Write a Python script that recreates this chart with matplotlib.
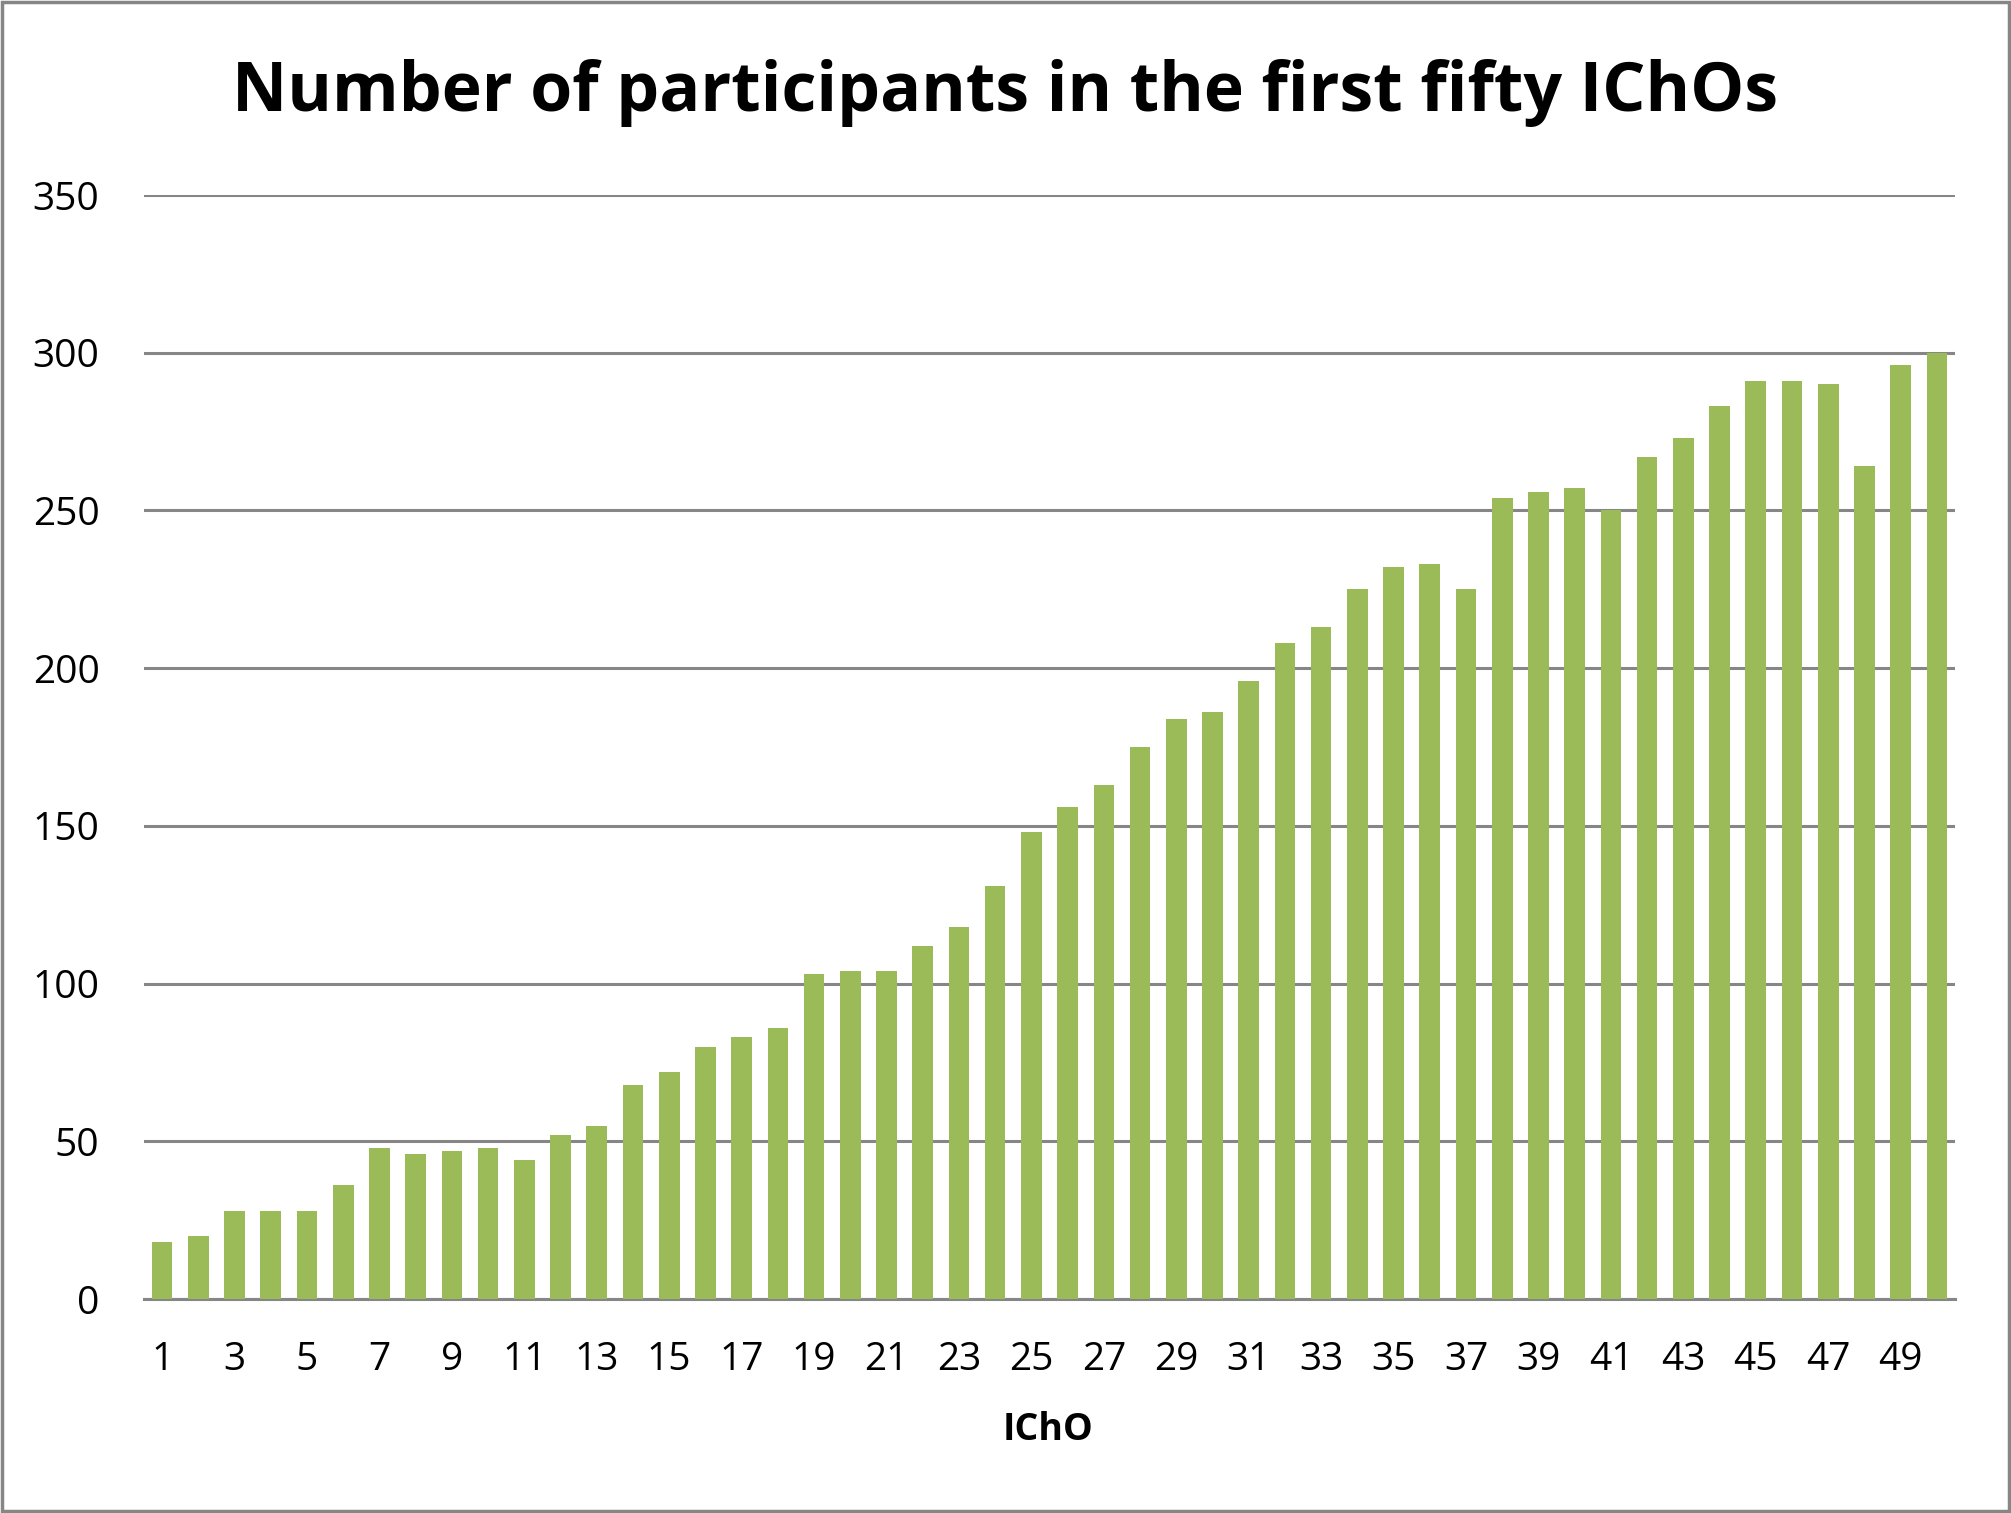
import matplotlib
matplotlib.use("Agg")
import matplotlib.pyplot as plt
from matplotlib.patches import Rectangle

icho = list(range(1, 51))
participants = [18, 20, 28, 28, 28, 36, 48, 46, 47, 48,
                44, 52, 55, 68, 72, 80, 83, 86, 103, 104,
                104, 112, 118, 131, 148, 156, 163, 175, 184, 186,
                196, 208, 213, 225, 232, 233, 225, 254, 256, 257,
                250, 267, 273, 283, 291, 291, 290, 264, 296, 300]
yticks = [0, 50, 100, 150, 200, 250, 300, 350]
xtick_labels = [str(i) for i in range(1, 50, 2)]

plt.rcParams['font.family'] = ['Open Sans', 'DejaVu Sans']

W, H = 2011, 1513
fig = plt.figure(figsize=(W / 100, H / 100), dpi=100)
ax = fig.add_axes([144 / W, 1 - 1299 / H, (1955 - 144) / W, (1299 - 195) / H])

ax.bar(icho, participants, width=0.57, color='#9BBB59', zorder=3)
ax.set_xlim(0.5, 50.5)
ax.set_ylim(0, 350)
ax.set_yticks(yticks)
ax.set_xticks(list(range(1, 50, 2)))
ax.set_xticklabels(xtick_labels)
ax.yaxis.grid(True, color='#868686', linewidth=2.2, zorder=0)
ax.set_axisbelow(True)
for s in ['left', 'right', 'top']:
    ax.spines[s].set_visible(False)
ax.spines['bottom'].set_color('#868686')
ax.spines['bottom'].set_linewidth(2.2)
ax.tick_params(axis='both', length=0, labelsize=28, colors='black')
ax.tick_params(axis='x', pad=30)
ax.tick_params(axis='y', pad=32)
for lbl in ax.get_yticklabels():
    lbl.set_horizontalalignment('right')

fig.text(0.5, 1 - 93 / H, 'Number of participants in the first fifty IChOs',
         ha='center', va='center', fontsize=49, fontweight='bold')
fig.text(1048 / W, 1 - 1430 / H, 'IChO', ha='center', va='center',
         fontsize=27, fontweight='bold')

fig.patches.append(Rectangle((0.001, 0.001), 0.998, 0.998, transform=fig.transFigure,
                             fill=False, edgecolor='#868686', linewidth=2.5))

fig.savefig('out.png', dpi=100)
